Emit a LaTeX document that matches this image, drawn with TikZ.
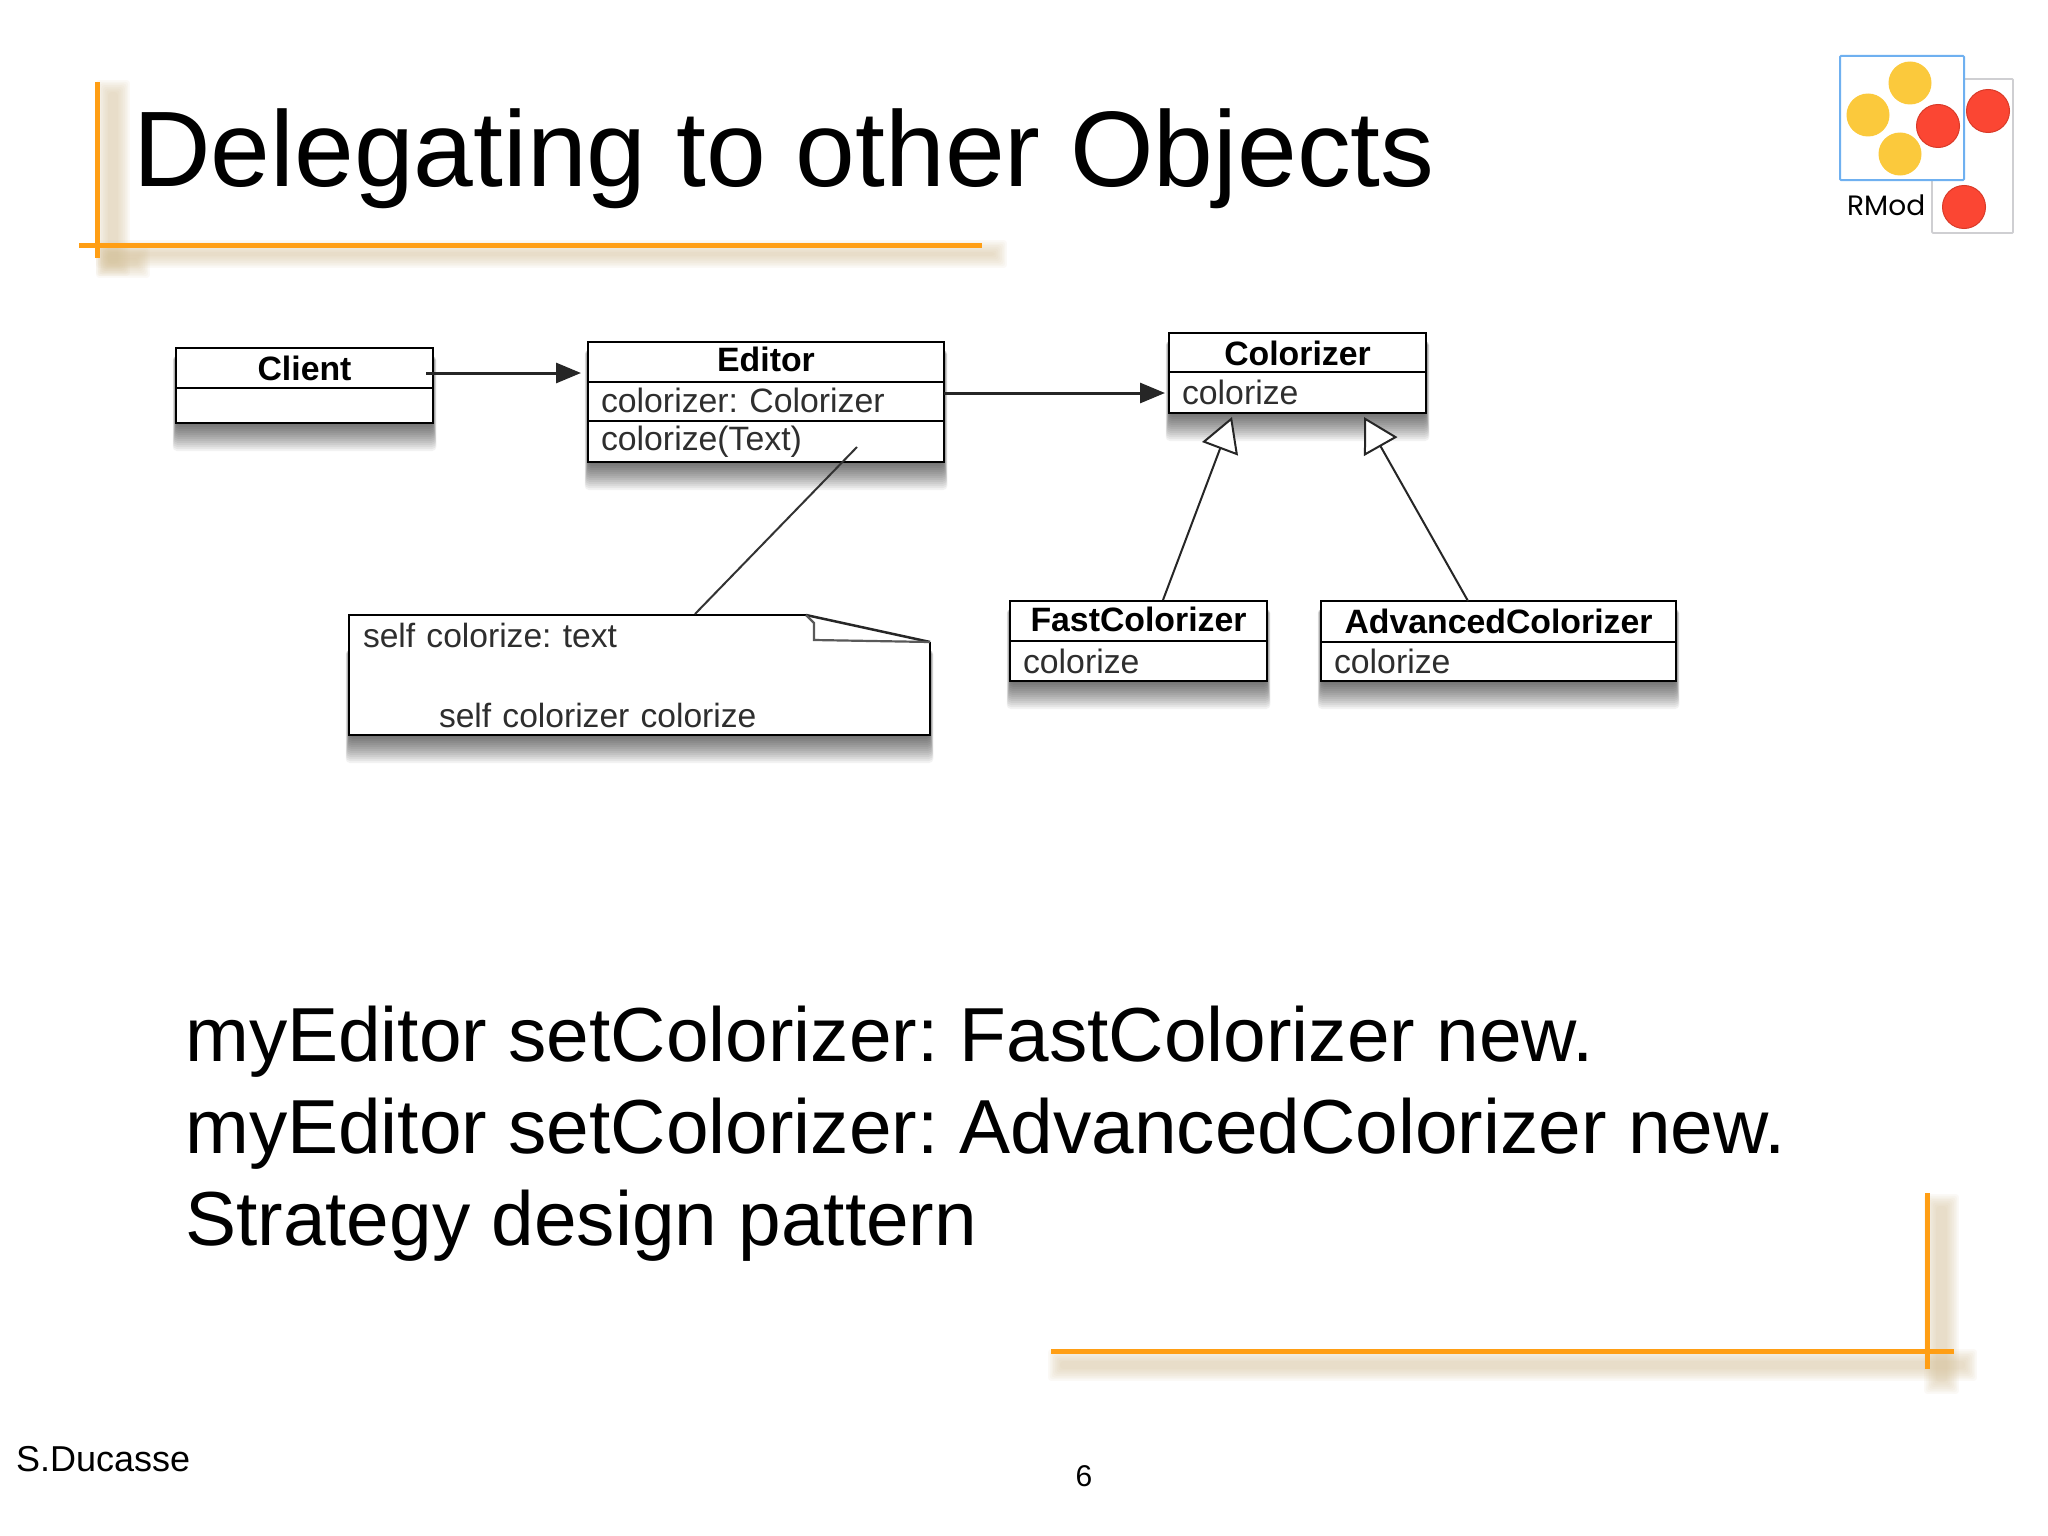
\documentclass[tikz,border=0pt]{standalone}
\usepackage{fontspec}
\setmainfont{Liberation Sans}
\newfontfamily\logofont{Poppins}
\usetikzlibrary{arrows.meta}
\frenchspacing
\definecolor{bracket}{HTML}{FF9E14}
\definecolor{bracketshade}{HTML}{D8C49C}
\definecolor{rowtext}{HTML}{2E2E2E}
\definecolor{logoblue}{HTML}{6FB0F0}
\definecolor{logogrey}{HTML}{CFCFD2}
\definecolor{logoyellow}{HTML}{FBC93C}
\definecolor{logored}{HTML}{FB4633}
\definecolor{logoredline}{HTML}{D93A28}
\newcommand{\boxshadow}[4]{%
  \foreach \i in {0,...,13}{\fill[black,opacity=.05,rounded corners=4pt] ({#1-\i*.25},{#2+8}) rectangle ({#3+\i*.25},{#4+2+\i*2});}}
\newcommand{\softband}[4]{%
  \foreach \i in {0,...,7}{\fill[bracketshade,opacity=.085,rounded corners=3pt] ({#1-\i*1.7},{#2-\i*1.7}) rectangle ({#3+\i*1.7},{#4+\i*1.7});}}
\tikzset{
  classhead/.style 2 args={draw=black,line width=2.5pt,fill=white,anchor=north west,outer sep=0pt,inner sep=0pt,
    minimum width=#1pt,minimum height=#2pt,align=center,font=\fontsize{33.8}{38}\selectfont\bfseries},
  classrow/.style 2 args={draw=black,line width=2.5pt,fill=white,anchor=north west,outer sep=0pt,inner xsep=13pt,inner ysep=0pt,
    minimum width=#1pt,minimum height=#2pt,text width={#1pt-26pt},align=left,text=rowtext,font=\fontsize{33.8}{38}\selectfont},
  assoc/.style={line width=3pt,black!85,-{Triangle[length=25pt,width=20pt]}},
  inherit/.style={line width=2pt,black!85,-{Triangle[open,length=34pt,width=38pt,fill=white]}},
  noteline/.style={line width=2pt,black!80},
  bracketline/.style={line width=5pt,bracket},
  logodot/.style={circle,minimum size=43pt,inner sep=0pt,outer sep=0pt},
  yellowdot/.style={logodot,fill=logoyellow},
  reddot/.style={logodot,fill=logored,draw=logoredline,line width=1pt},
}
\begin{document}
\begin{tikzpicture}[x=1pt,y=-1pt]
\useasboundingbox (0,0) rectangle (2048,1536);
\fill[white] (0,0) rectangle (2048,1536);

% top-left bracket
\softband{108}{92}{118}{264}
\softband{108}{252}{995}{256}
\softband{108}{258}{138}{266}
\coordinate (tlvtop) at (97.5,82);
\coordinate (tlvbot) at (97.5,258);
\coordinate (tlhleft) at (79,245.5);
\coordinate (tlhright) at (982,245.5);
\draw[bracketline] (tlvtop) -- (tlvbot);
\draw[bracketline] (tlhleft) -- (tlhright);

% bottom-right bracket
\softband{1936}{1206}{1947}{1382}
\softband{1060}{1361}{1965}{1369}
\coordinate (brvtop) at (1927.5,1193);
\coordinate (brvbot) at (1927.5,1369);
\coordinate (brhleft) at (1051,1351.5);
\coordinate (brhright) at (1954,1351.5);
\draw[bracketline] (brvtop) -- (brvbot);
\draw[bracketline] (brhleft) -- (brhright);

% title
\node[anchor=base west,inner sep=0pt,font=\fontsize{107.4}{120}\selectfont] (title) at (133,186) {Delegating to other Objects};

% logo
\draw[logogrey,line width=1.8pt,fill=white,rounded corners=1pt] (1932,79) rectangle (2013,233);
\draw[logoblue,line width=2pt,fill=white,rounded corners=1pt] (1840,56) rectangle (1964,180);
\node[yellowdot] (y1) at (1910,83) {};
\node[yellowdot] (y2) at (1868,115) {};
\node[yellowdot] (y3) at (1900,154) {};
\node[reddot] (r1) at (1938,126) {};
\node[reddot] (r2) at (1988,111) {};
\node[reddot] (r3) at (1964,207) {};
\node[anchor=base west,inner sep=0pt,font=\logofont\fontsize{28}{30}\selectfont] (rmod) at (1847,215) {RMod};

% shadows
\boxshadow{176}{348}{433}{423}
\boxshadow{588}{342}{944}{462}
\boxshadow{1169}{333}{1426}{413}
\boxshadow{1010}{601}{1267}{681}
\boxshadow{1321}{601}{1676}{681}
\boxshadow{349}{642}{930}{735}

% Client
\node[classhead={257}{40}] (client) at (176,348) {Client};
\node[classrow={257}{35}] (clientbody) at (176,388) {};
% Editor
\node[classhead={356}{40},text depth=5pt] (editor) at (588,342) {Editor};
\node[classrow={356}{39},text depth=3pt] (editorattr) at (588,382) {colorizer: Colorizer};
\node[classrow={356}{41}] (editorop) at (588,421) {colorize(Text)};
% Colorizer
\node[classhead={257}{39},text height=27pt] (colorizer) at (1169,333) {Colorizer};
\node[classrow={257}{41}] (colorizerop) at (1169,372) {colorize};
% FastColorizer
\node[classhead={257}{40},text depth=3pt] (fast) at (1010,601) {FastColorizer};
\node[classrow={257}{40}] (fastop) at (1010,641) {colorize};
% AdvancedColorizer
\node[classhead={355}{41}] (advanced) at (1321,601) {AdvancedColorizer};
\node[classrow={355}{39}] (advancedop) at (1321,642) {colorize};

% note
\fill[white] (349,615) -- (806,615) -- (930,642) -- (930,735) -- (349,735) -- cycle;
\node[anchor=north west,inner xsep=14pt,inner ysep=0pt,outer sep=0pt,minimum width=581pt,minimum height=120pt,
      text width=553pt,align=left,text=rowtext,font=\fontsize{33.6}{40}\selectfont] (note) at (349,615)
  {self colorize: text\\ \mbox{}\\ \hspace*{76pt}self colorizer colorize};
\draw[black,line width=2.5pt] ([xshift=-124pt]note.north east) -- (note.north west) -- (note.south west) -- (note.south east) -- ([yshift=-27pt]note.north east);
\draw[black!85,line width=2.5pt] ([xshift=-124pt]note.north east) -- ([yshift=-27pt]note.north east);
\draw[black!65,line width=2.2pt] ([xshift=-124pt]note.north east) -- ([xshift=-116pt,yshift=-8pt]note.north east) -- ([xshift=-116pt,yshift=-25pt]note.north east) -- ([yshift=-27pt]note.north east);

% connectors
\coordinate (c1s) at (426,373);
\coordinate (c1e) at (581,373);
\draw[assoc] (c1s) -- (c1e);
\coordinate (c2s) at (944,393);
\coordinate (c2e) at (1165,393);
\draw[assoc] (c2s) -- (c2e);
\coordinate (notelink) at (695,614);
\coordinate (oplink) at (857,447);
\draw[noteline] (notelink) -- (oplink);
\coordinate (fastout) at (1163,600);
\coordinate (fasttip) at (1232,417);
\draw[inherit] (fastout) -- (fasttip);
\coordinate (advout) at (1468,601);
\coordinate (advtip) at (1364,417);
\draw[inherit] (advout) -- (advtip);

% body
\node[anchor=north west,inner sep=0pt,align=left,font=\fontsize{76.6}{92}\selectfont] (body) at (185,1006)
  {myEditor setColorizer: FastColorizer new.\\ myEditor setColorizer: AdvancedColorizer new.\\ Strategy design pattern};

% footer
\node[anchor=base west,inner sep=0pt,font=\fontsize{36}{40}\selectfont] (author) at (16,1471) {S.Ducasse};
\node[anchor=base,inner sep=0pt,font=\fontsize{30}{32}\selectfont] (page) at (1084,1486) {6};
\end{tikzpicture}
\end{document}
